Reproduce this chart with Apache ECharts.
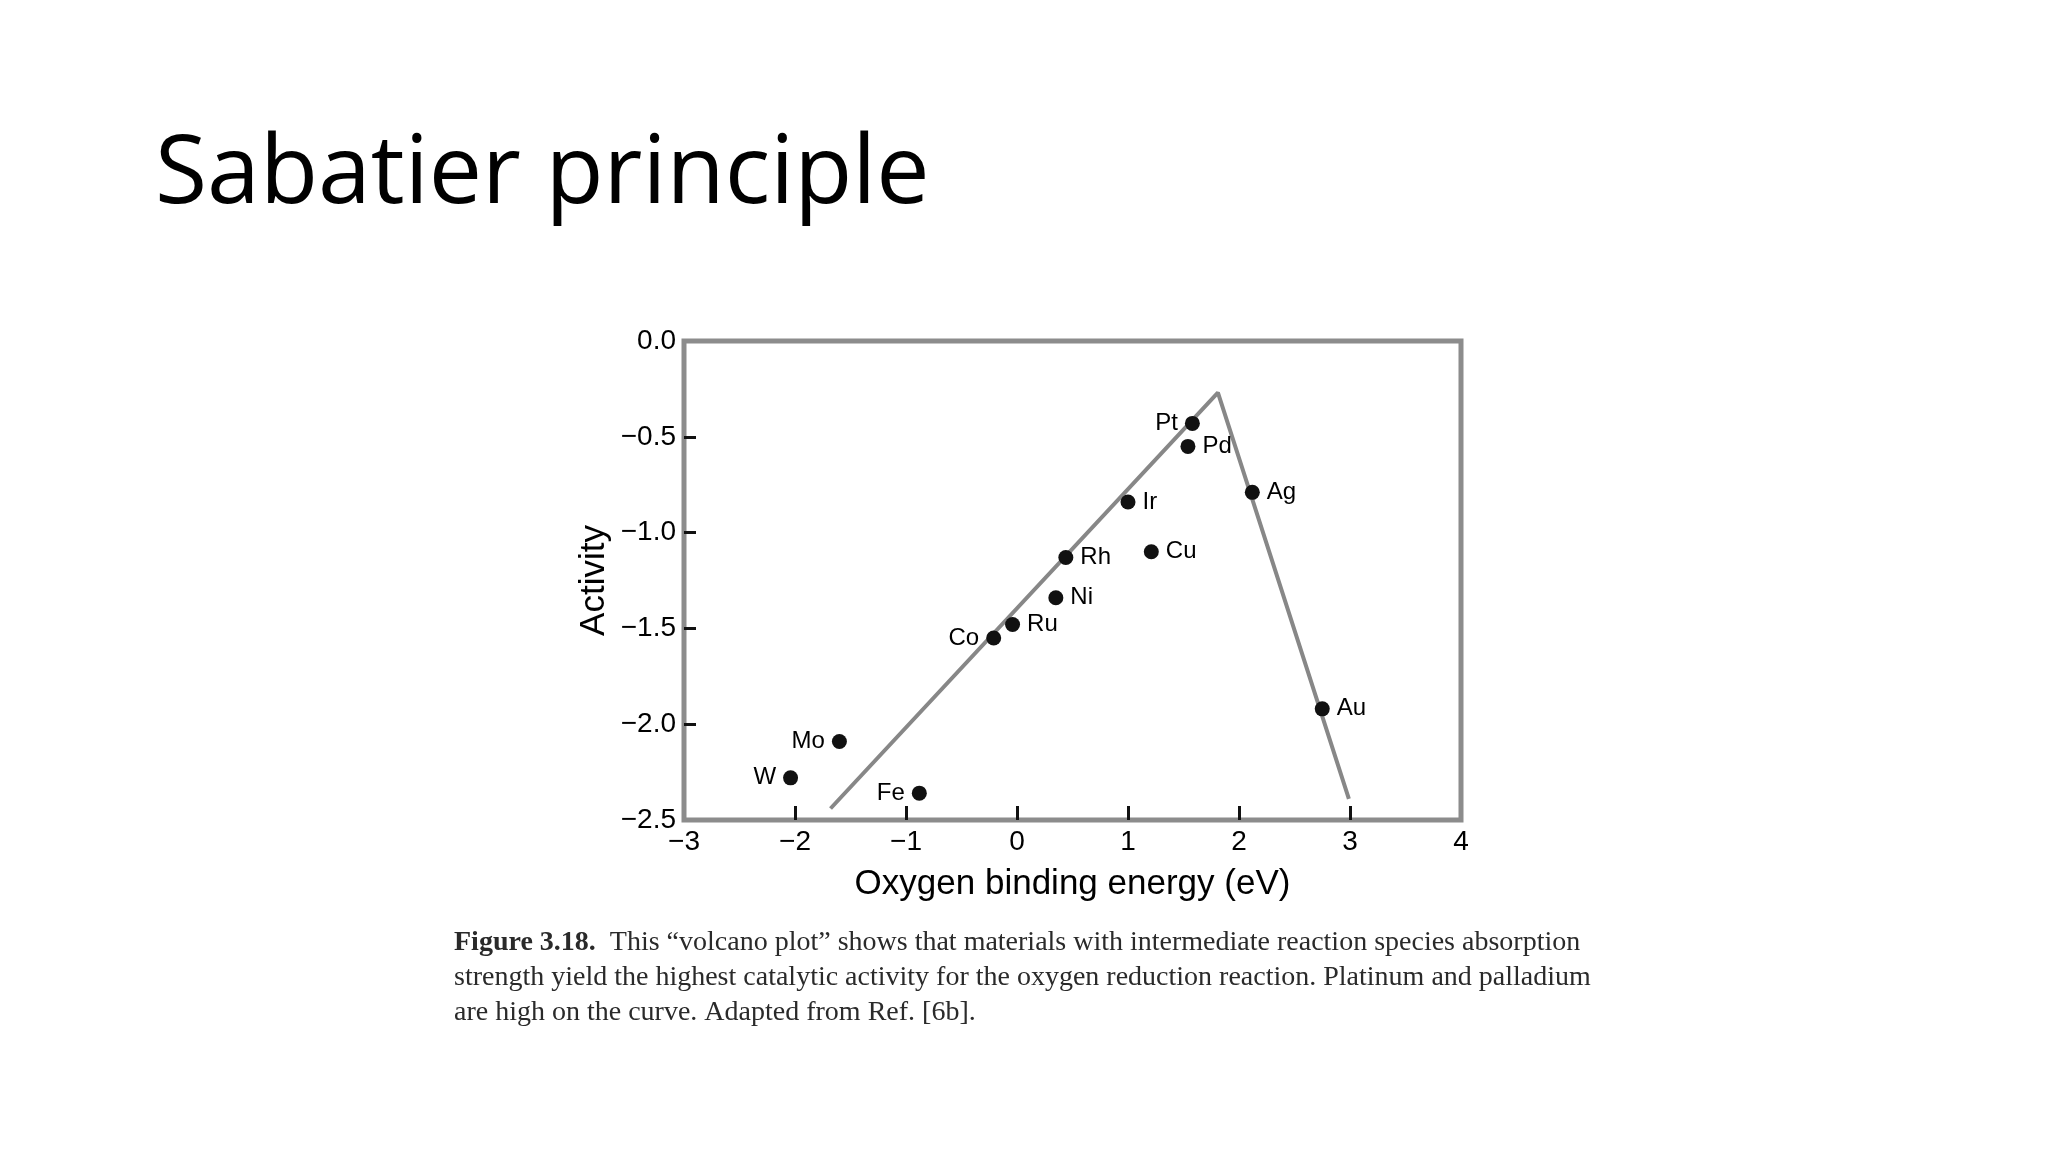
<!DOCTYPE html>
<html>
<head>
<meta charset="utf-8">
<title>Sabatier principle</title>
<script src="https://cdn.jsdelivr.net/npm/echarts@6.0.0/dist/echarts.min.js"></script>
<style>
  html, body { margin: 0; padding: 0; background: #fff; }
  #chart { width: 2048px; height: 1152px; }
</style>
</head>
<body>
<div id="chart"></div>
<script>
// volcano plot data
const metals = ['Pt', 'Pd', 'Ir', 'Ag', 'Cu', 'Rh', 'Ni', 'Ru', 'Co', 'Au', 'Mo', 'W', 'Fe'];
const bindingEnergy = [1.58, 1.54, 1.00, 2.12, 1.21, 0.44, 0.35, -0.04, -0.21, 2.75, -1.60, -2.04, -0.88];
const activity = [-0.43, -0.55, -0.84, -0.79, -1.10, -1.13, -1.34, -1.48, -1.55, -1.92, -2.09, -2.28, -2.36];

// the two legs of the volcano
const volcanoX = [-1.68, 1.81, 2.99];
const volcanoY = [-2.44, -0.27, -2.39];

const xTicks = [-2, -1, 0, 1, 2, 3];
const yTicks = [-0.5, -1.0, -1.5, -2.0];

// labels drawn on the left side of their dot
const leftLabelled = ['Pt', 'Co', 'Mo', 'W', 'Fe'];

const minus = s => s.replace('-', '\u2212');

const chart = echarts.init(document.getElementById('chart'));

const option = {
  backgroundColor: '#fff',
  animation: false,
  grid: {
    left: 684,
    right: 587,
    top: 341,
    bottom: 332,
    show: true,
    borderColor: '#8c8c8c',
    borderWidth: 5,
    backgroundColor: 'transparent'
  },
  xAxis: {
    type: 'value',
    min: -3,
    max: 4,
    interval: 1,
    name: 'Oxygen binding energy (eV)',
    nameLocation: 'middle',
    nameGap: 47,
    nameTextStyle: { fontFamily: 'Liberation Sans', fontSize: 35, color: '#000' },
    axisLine: { show: false, onZero: false },
    splitLine: { show: false },
    axisTick: {
      inside: true,
      length: 14,
      customValues: xTicks,
      lineStyle: { color: '#111', width: 3 }
    },
    axisLabel: {
      margin: 8,
      fontFamily: 'Liberation Sans',
      fontSize: 28,
      color: '#000',
      formatter: v => minus(String(v))
    }
  },
  yAxis: {
    type: 'value',
    min: -2.5,
    max: 0,
    interval: 0.5,
    name: 'Activity',
    nameLocation: 'middle',
    nameGap: 72,
    nameRotate: 90,
    nameTextStyle: { fontFamily: 'Liberation Sans', fontSize: 35, color: '#000' },
    axisLine: { show: false, onZero: false },
    splitLine: { show: false },
    axisTick: {
      inside: true,
      length: 12,
      customValues: yTicks,
      lineStyle: { color: '#111', width: 3 }
    },
    axisLabel: {
      margin: 8,
      fontFamily: 'Liberation Sans',
      fontSize: 28,
      color: '#000',
      formatter: v => minus(v.toFixed(1))
    }
  },
  series: [
    {
      type: 'line',
      data: volcanoX.map((x, i) => [x, volcanoY[i]]),
      showSymbol: false,
      symbol: 'none',
      lineStyle: { color: '#878787', width: 4 },
      z: 1
    },
    {
      type: 'scatter',
      data: metals.map((m, i) => ({
        name: m,
        value: [bindingEnergy[i], activity[i]],
        label: { position: leftLabelled.includes(m) ? 'left' : 'right' }
      })),
      symbolSize: 15,
      itemStyle: { color: '#111', opacity: 1 },
      label: {
        show: true,
        formatter: '{b}',
        distance: 7,
        fontFamily: 'Liberation Sans',
        fontSize: 24,
        color: '#000'
      },
      z: 3
    }
  ],
  graphic: [
    {
      type: 'text',
      left: 155,
      top: 128,
      style: {
        text: 'Sabatier principle',
        font: '95px "Open Sans"',
        fill: '#000'
      }
    },
    {
      type: 'text',
      left: 454,
      top: 925,
      style: {
        text: '{b|Figure 3.18.}  This \u201cvolcano plot\u201d shows that materials with intermediate reaction species absorption\n' +
              'strength yield the highest catalytic activity for the oxygen reduction reaction. Platinum and palladium\n' +
              'are high on the curve. Adapted from Ref. [6b].',
        font: '28px "Liberation Serif"',
        fill: '#2a2a2a',
        lineHeight: 35,
        rich: {
          b: { font: 'bold 28px "Liberation Serif"', fill: '#2a2a2a', lineHeight: 35 }
        }
      }
    }
  ]
};

chart.setOption(option);
</script>
</body>
</html>
